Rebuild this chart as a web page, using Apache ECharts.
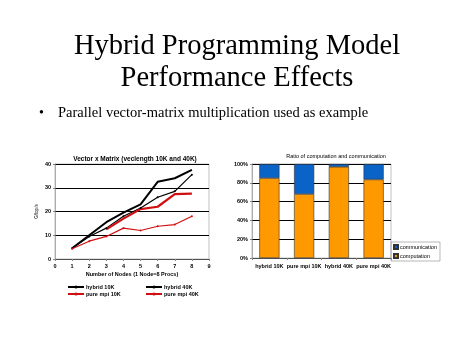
<!DOCTYPE html>
<html><head><meta charset="utf-8">
<script src="https://cdn.jsdelivr.net/npm/echarts@6/dist/echarts.min.js"></script>
<style>html,body{margin:0;padding:0;background:#fff}#c{width:474px;height:355px}</style>
</head><body><div id="c"></div>
<script>
const nodes = [1,2,3,4,5,6,7,8];
const hybrid10K = [4.5, 9.5, 13, 18, 21.5, 26, 28.5, 35.5];
const hybrid40K = [4.5, 10, 15.5, 19.5, 23, 32.5, 34, 37.5];
const pureMpi10K = [4.3, 7.5, 9.5, 13, 12, 13.8, 14.5, 18];
const pureMpi40K = [null, null, 12.5, 17, 21, 22, 27.3, 27.5];
const barCats = ['hybrid 10K','pure mpi 10K','hybrid 40K','pure mpi 40K'];
const computation = [85, 68, 97, 83.5];
const communication = computation.map(v => 100 - v);

const pair = a => nodes.map((n,i)=>[n,a[i]]).filter(p=>p[1]!=null);
const small = {fontFamily:'Liberation Sans, Arial', fontSize:5.5, color:'#000'};

const chart = echarts.init(document.getElementById('c'), null, {renderer:'canvas'});
chart.setOption({
  animation:false,
  backgroundColor:'#fff',
  graphic:[
    {type:'text', left:'center', top:32, style:{text:'Hybrid Programming Model', font:'28.5px "Liberation Serif", "Times New Roman", serif', fill:'#000'}},
    {type:'text', left:'center', top:64, style:{text:'Performance Effects', font:'28.5px "Liberation Serif", "Times New Roman", serif', fill:'#000'}},
    {type:'text', left:39, top:106, style:{text:'•', font:'14px "Liberation Serif", serif', fill:'#000'}},
    {type:'text', left:58, top:106, style:{text:'Parallel vector-matrix multiplication used as example', font:'14.5px "Liberation Serif", "Times New Roman", serif', fill:'#000'}}
  ],
  title:[
    {text:'Vector x Matrix (veclength 10K and 40K)', left:130, top:151, textAlign:'center', textStyle:{fontFamily:'Liberation Sans, Arial', fontSize:6.5, fontWeight:'bold', color:'#000'}},
    {text:'Ratio of computation and communication', left:331, top:148, textAlign:'center', textStyle:{fontFamily:'Liberation Sans, Arial', fontSize:5.5, fontWeight:'normal', color:'#000'}}
  ],
  grid:[
    {left:55, right:265, top:164, bottom:96, show:true, borderColor:'#999', borderWidth:0.6, backgroundColor:'#fff'},
    {left:252, right:83, top:164, bottom:97, show:true, borderColor:'#999', borderWidth:0.6, backgroundColor:'#fff'}
  ],
  xAxis:[
    {type:'value', gridIndex:0, min:0, max:9, interval:1, name:'Number of Nodes (1 Node=8 Procs)', nameLocation:'middle', nameGap:12,
     nameTextStyle:{...small, fontWeight:'bold'}, axisLine:{lineStyle:{color:'#888', width:0.6}}, axisTick:{show:true, length:2, lineStyle:{color:'#888'}},
     axisLabel:{...small, margin:4, fontWeight:'bold'}, splitLine:{show:false}},
    {type:'category', gridIndex:1, data:barCats, axisLine:{lineStyle:{color:'#888', width:0.6}}, axisTick:{show:true, length:2, lineStyle:{color:'#888'}},
     axisLabel:{...small, margin:5, fontWeight:'bold', interval:0}}
  ],
  yAxis:[
    {type:'value', gridIndex:0, min:0, max:40, interval:10, name:'Gflop/s', nameLocation:'middle', nameGap:16, nameRotate:90,
     nameTextStyle:{...small, fontSize:4.5}, axisLine:{show:true, lineStyle:{color:'#888', width:0.6}}, axisTick:{show:true, length:2, lineStyle:{color:'#888'}},
     axisLabel:{...small, margin:4, fontWeight:'bold'}, splitLine:{lineStyle:{color:'#000', width:1}}},
    {type:'value', gridIndex:1, min:0, max:100, interval:20, axisLine:{show:true, lineStyle:{color:'#888', width:0.6}}, axisTick:{show:true, length:2, lineStyle:{color:'#888'}},
     axisLabel:{...small, margin:4, fontWeight:'bold', formatter:'{value}%'}, splitLine:{lineStyle:{color:'#000', width:1}}}
  ],
  legend:[
    {data:['hybrid 10K','pure mpi 10K'], orient:'vertical', left:62, top:279, itemWidth:16, itemHeight:4, itemGap:1, textStyle:{...small, fontWeight:'bold', padding:[0,0,0,-3]}},
    {data:['hybrid 40K','pure mpi 40K'], orient:'vertical', left:140, top:279, itemWidth:16, itemHeight:4, itemGap:1, textStyle:{...small, fontWeight:'bold', padding:[0,0,0,-3]}},
    {data:['communication','computation'], orient:'vertical', left:391, top:242, itemWidth:4, itemHeight:4, itemGap:3, padding:[2,3,2,2],
     borderColor:'#888', borderWidth:0.6, icon:'rect', textStyle:{...small, padding:[0,0,0,-3]}}
  ],
  series:[
    {name:'hybrid 10K', type:'line', xAxisIndex:0, yAxisIndex:0, data:pair(hybrid10K), symbol:'circle', symbolSize:2, lineStyle:{color:'#000', width:1.2}, itemStyle:{color:'#000'}},
    {name:'hybrid 40K', type:'line', xAxisIndex:0, yAxisIndex:0, data:pair(hybrid40K), symbol:'none', lineStyle:{color:'#000', width:2}, itemStyle:{color:'#000'}},
    {name:'pure mpi 10K', type:'line', xAxisIndex:0, yAxisIndex:0, data:pair(pureMpi10K), symbol:'circle', symbolSize:2, lineStyle:{color:'#d01010', width:1.2}, itemStyle:{color:'#d01010'}},
    {name:'pure mpi 40K', type:'line', xAxisIndex:0, yAxisIndex:0, data:pair(pureMpi40K), symbol:'none', lineStyle:{color:'#d01010', width:2.2}, itemStyle:{color:'#d01010'}},
    {name:'computation', type:'bar', xAxisIndex:1, yAxisIndex:1, stack:'r', data:computation, barWidth:'58%', itemStyle:{color:'#FF9900', borderColor:'#333', borderWidth:0.6}},
    {name:'communication', type:'bar', xAxisIndex:1, yAxisIndex:1, stack:'r', data:communication, barWidth:'58%', itemStyle:{color:'#0A64C8', borderColor:'#333', borderWidth:0.6}}
  ]
});
</script></body></html>
